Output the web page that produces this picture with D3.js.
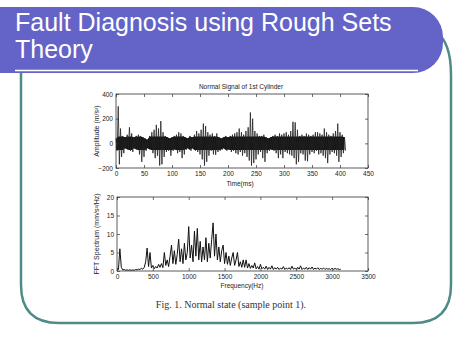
<!DOCTYPE html>
<html lang="en">
<head>
  <meta charset="UTF-8">
  <title>Fault Diagnosis using Rough Sets Theory</title>
  <script src="https://d3js.org/d3.v7.min.js"></script>
  <style>
    body {
      margin: 0;
      background: #fff;
    }
    .fig text {
      font-family: "Liberation Sans", Arial, sans-serif;
      font-size: 6.5px;
      fill: #222;
    }
    .fig text.ylabel {
      font-size: 7px;
    }
    .axis path {
      display: none;
    }
    .axis line {
      stroke: #333;
      stroke-width: 0.7px;
    }
  </style>
</head>
<body>
  <svg id="slide" width="474" height="355"></svg>

  <script>
    // time signal peaks, one bin every 4 ms
    const binStep = 4;
    const sigHi = [
      40, 300, 120, 60, 50, 70, 130, 80, 50, 60,
      70, 60, 50, 40, 30, 60, 90, 110, 150, 120,
      180, 90, 60, 50, 40, 50, 60, 70, 90, 80,
      60, 50, 40, 60, 50, 70, 100, 80, 110, 160,
      140, 90, 70, 80, 60, 80, 50, 40, 50, 60,
      50, 60, 70, 80, 90, 120, 90, 70, 100, 130,
      250, 200, 100, 80, 60, 60, 70, 50, 40, 50,
      60, 70, 60, 80, 70, 80, 90, 70, 100, 175,
      170, 110, 60, 70, 60, 80, 70, 60, 70, 90,
      90, 80, 70, 120, 90, 70, 60, 80, 100, 160,
      90, 70, 50
    ];
    const sigLo = [
      -60, -170, -110, -80, -40, -50, -60, -70, -40, -50,
      -90, -150, -110, -60, -40, -50, -80, -120, -100, -180,
      -170, -110, -70, -60, -100, -60, -50, -80, -70, -120,
      -90, -50, -40, -60, -40, -60, -70, -90, -130, -180,
      -150, -100, -60, -90, -93, -70, -60, -50, -40, -60,
      -50, -70, -60, -80, -90, -70, -100, -80, -110, -140,
      -180, -160, -130, -90, -70, -120, -150, -80, -60, -50,
      -60, -80, -120, -90, -120, -70, -80, -90, -100, -120,
      -170, -150, -80, -90, -140, -145, -90, -70, -80, -60,
      -90, -80, -100, -120, -160, -90, -70, -80, -100, -150,
      -110, -80, -60
    ];

    // FFT spectrum: one value every 20 Hz
    const freqStep = 20;
    const spec = [
      0.3,0.4,6.0,1.0,0.3,0.4,0.2,0.3,0.2,0.3,
      0.2,0.3,0.2,0.4,0.3,0.5,0.4,0.7,0.5,1.0,
      2.5,6.2,1.2,5.0,0.8,1.5,0.6,1.2,0.8,1.8,
      1.0,2.0,0.9,5.0,1.5,3.0,1.2,4.0,7.0,2.0,
      5.5,1.8,4.5,8.6,2.5,6.0,2.0,7.5,3.0,5.0,
      12.0,3.5,7.0,2.5,10.8,4.0,11.5,3.0,8.0,2.5,
      6.5,3.0,9.0,2.5,7.5,3.5,8.5,13.0,4.0,10.0,
      3.0,6.5,2.5,5.5,7.0,2.0,5.0,1.8,4.0,1.5,
      3.5,5.0,1.5,3.0,5.0,1.2,2.5,1.0,3.0,1.0,
      3.0,0.8,2.0,0.7,1.5,0.8,2.2,0.6,1.2,0.5,
      1.8,0.6,1.0,0.5,1.3,0.4,1.0,0.5,1.4,0.4,
      0.9,0.5,1.0,0.4,0.8,0.5,1.2,0.4,0.8,0.5,
      0.9,0.4,1.3,0.5,0.8,0.4,1.0,0.5,1.4,0.4,
      0.8,0.5,1.0,0.4,0.9,0.5,1.1,0.4,0.8,0.5,
      0.9,0.4,0.7,0.5,0.8,0.4,0.7,0.5,0.6,0.4,
      0.8,0.4,0.7,0.5,0.6,0.4,0.5
    ];

    const timeTicks = [0, 50, 100, 150, 200, 250, 300, 350, 400, 450];
    const ampTicks = [-200, 0, 200, 400];
    const freqTicks = [0, 500, 1000, 1500, 2000, 2500, 3000, 3500];
    const specTicks = [0, 5, 10, 15, 20];

    const svg = d3.select("#slide");

    // slide frame (teal rounded border)
    svg.append("path")
      .attr("d", "M21,70 V285 Q21,323 59,323 H413 Q451,323 451,285 V75 Q451,42 436,32")
      .attr("fill", "none")
      .attr("stroke", "#4f8c88")
      .attr("stroke-width", 2.5);

    // title band
    svg.append("rect")
      .attr("x", -30).attr("y", 7)
      .attr("width", 473).attr("height", 66)
      .attr("rx", 30)
      .attr("fill", "#6464c8");

    svg.append("line")
      .attr("x1", 15).attr("x2", 418)
      .attr("y1", 70.5).attr("y2", 70.5)
      .attr("stroke", "#fff")
      .attr("stroke-width", 1.5);

    const title = svg.append("text")
      .attr("font-family", "'Liberation Sans', Arial, sans-serif")
      .attr("font-size", 25)
      .attr("fill", "#fff");
    title.append("tspan").attr("x", 15).attr("y", 31).text("Fault Diagnosis using Rough Sets");
    title.append("tspan").attr("x", 15).attr("y", 58).text("Theory");

    const fig = svg.append("g").attr("class", "fig");

    function drawPanel(x, y, xTicks, yTicks) {
      const [x0, x1] = x.range();
      const [y0, y1] = y.range();
      fig.append("rect")
        .attr("x", x0).attr("y", y1)
        .attr("width", x1 - x0).attr("height", y0 - y1)
        .attr("fill", "none")
        .attr("stroke", "#333")
        .attr("stroke-width", 0.8);

      fig.append("g").attr("class", "axis")
        .attr("transform", `translate(0,${y0})`)
        .call(d3.axisBottom(x).tickValues(xTicks).tickSize(-3).tickPadding(3.5).tickFormat(d3.format("d")));
      fig.append("g").attr("class", "axis")
        .attr("transform", `translate(0,${y1})`)
        .call(d3.axisTop(x).tickValues(xTicks).tickSize(-3).tickFormat(""));
      fig.append("g").attr("class", "axis")
        .attr("transform", `translate(${x0},0)`)
        .call(d3.axisLeft(y).tickValues(yTicks).tickSize(-3).tickPadding(3).tickFormat(d3.format("d")));
      fig.append("g").attr("class", "axis")
        .attr("transform", `translate(${x1},0)`)
        .call(d3.axisRight(y).tickValues(yTicks).tickSize(-3).tickFormat(""));
    }

    // --- time signal panel ---
    const xT = d3.scaleLinear().domain([0, 450]).range([116, 368]);
    const yT = d3.scaleLinear().domain([-200, 400]).range([168, 94]);

    const env = sigHi.map((hi, i) => ({ t: i * binStep, hi, lo: sigLo[i] }));

    // dense core of the trace
    fig.append("path")
      .datum(env)
      .attr("d", d3.area().x(d => xT(d.t))
        .y0(d => yT(Math.max(d.lo, -55)))
        .y1(d => yT(Math.min(d.hi, 55))))
      .attr("fill", "#111");

    // oscillating trace: peak then trough in every bin
    const trace = env.flatMap(d => [[d.t, d.hi], [d.t + binStep / 2, d.lo]]);
    fig.append("path")
      .datum(trace)
      .attr("d", d3.line().x(d => xT(d[0])).y(d => yT(d[1])))
      .attr("fill", "none")
      .attr("stroke", "#222")
      .attr("stroke-width", 0.8);

    drawPanel(xT, yT, timeTicks, ampTicks);

    fig.append("text")
      .attr("x", 241).attr("y", 89)
      .attr("text-anchor", "middle")
      .text("Normal Signal of 1st Cylinder");

    fig.append("text")
      .attr("x", 240).attr("y", 186)
      .attr("text-anchor", "middle")
      .text("Time(ms)");

    fig.append("text")
      .attr("class", "ylabel")
      .attr("transform", "translate(99,131) rotate(-90)")
      .attr("text-anchor", "middle")
      .text("Amplitude (m/s²)");

    // --- spectrum panel ---
    const xF = d3.scaleLinear().domain([0, 3500]).range([117, 368]);
    const yF = d3.scaleLinear().domain([0, 20]).range([271, 197]);

    fig.append("path")
      .datum(spec)
      .attr("d", d3.line().x((d, i) => xF(i * freqStep)).y(d => yF(d)))
      .attr("fill", "none")
      .attr("stroke", "#111")
      .attr("stroke-width", 1.0);

    drawPanel(xF, yF, freqTicks, specTicks);

    fig.append("text")
      .attr("x", 242).attr("y", 288)
      .attr("text-anchor", "middle")
      .text("Frequency(Hz)");

    fig.append("text")
      .attr("class", "ylabel")
      .attr("transform", "translate(99,234) rotate(-90)")
      .attr("text-anchor", "middle")
      .text("FFT Spectrum (mm/s²/Hz)");

    svg.append("text")
      .attr("x", 231).attr("y", 308)
      .attr("text-anchor", "middle")
      .attr("font-family", "'Liberation Serif', 'Times New Roman', serif")
      .attr("font-size", 10)
      .attr("fill", "#333")
      .text("Fig. 1. Normal state (sample point 1).");
  </script>
</body>
</html>
